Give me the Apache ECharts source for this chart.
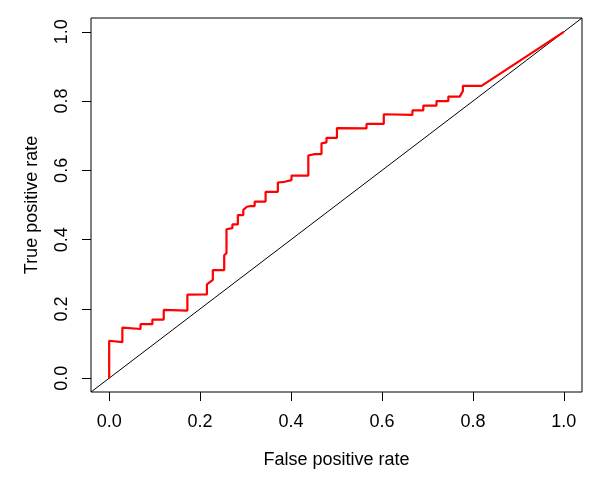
<!DOCTYPE html>
<html>
<head>
<meta charset="utf-8">
<script src="https://cdn.jsdelivr.net/npm/echarts@6/dist/echarts.min.js"></script>
<style>
html,body{margin:0;padding:0;background:#fff;}
#chart{width:600px;height:484px;}
</style>
</head>
<body>
<div id="chart"></div>
<script>
// ROC curve points (false positive rate, true positive rate)
var fpr = [0,0,0.029,0.029,0.069,0.069,0.095,0.095,0.120,0.120,0.172,0.172,0.215,0.215,0.228,0.228,0.253,0.253,0.258,0.258,0.271,0.271,0.283,0.283,0.295,0.295,0.303,0.311,0.320,0.320,0.344,0.344,0.371,0.371,0.386,0.401,0.401,0.438,0.438,0.452,0.467,0.467,0.478,0.478,0.501,0.501,0.566,0.566,0.604,0.604,0.667,0.667,0.691,0.691,0.720,0.720,0.746,0.746,0.771,0.778,0.778,0.819,1];
var tpr = [0,0.108,0.104,0.146,0.142,0.156,0.156,0.169,0.169,0.197,0.195,0.241,0.242,0.271,0.284,0.312,0.312,0.355,0.361,0.430,0.433,0.444,0.444,0.471,0.471,0.486,0.495,0.497,0.497,0.510,0.510,0.538,0.538,0.565,0.567,0.572,0.585,0.585,0.643,0.647,0.647,0.678,0.681,0.694,0.694,0.722,0.721,0.734,0.734,0.762,0.760,0.773,0.773,0.787,0.787,0.800,0.800,0.813,0.813,0.829,0.844,0.844,1];
// reference diagonal (chance line), spans the whole plot region
var diagX = [-0.04, 1.04];
var diagY = [-0.04, 1.04];
var tickValues = [0, 0.2, 0.4, 0.6, 0.8, 1.0];
var xTitle = 'False positive rate';
var yTitle = 'True positive rate';

var rocData = fpr.map(function(v, i){ return [v, tpr[i]]; });
var diagData = diagX.map(function(v, i){ return [v, diagY[i]]; });

var FONT = '"Liberation Sans", Arial, Helvetica, sans-serif';
var chart = echarts.init(document.getElementById('chart'), null, {renderer:'canvas'});
chart.setOption({
  animation: false,
  backgroundColor: '#ffffff',
  grid: {left: 91, right: 18, top: 18, bottom: 92, show: true, borderColor: '#000', borderWidth: 1, backgroundColor: 'transparent'},
  xAxis: {
    type: 'value', min: -0.04, max: 1.04, position: 'bottom',
    name: xTitle, nameLocation: 'middle', nameGap: 59,
    nameTextStyle: {fontFamily: FONT, fontSize: 18, color: '#000'},
    axisLine: {show: false, onZero: false},
    axisTick: {show: true, inside: false, customValues: tickValues, length: 9, lineStyle: {color: '#000', width: 1}},
    axisLabel: {customValues: tickValues, formatter: function(v){ return v.toFixed(1); }, fontFamily: FONT, fontSize: 18, color: '#000', margin: 21},
    splitLine: {show: false}
  },
  yAxis: {
    type: 'value', min: -0.04, max: 1.04, position: 'left',
    name: yTitle, nameLocation: 'middle', nameGap: 50, nameRotate: 90,
    nameTextStyle: {fontFamily: FONT, fontSize: 18, color: '#000'},
    axisLine: {show: false, onZero: false},
    axisTick: {show: true, inside: false, customValues: tickValues, length: 9, lineStyle: {color: '#000', width: 1}},
    axisLabel: {customValues: tickValues, rotate: 90, formatter: function(v){ return v.toFixed(1); }, fontFamily: FONT, fontSize: 18, color: '#000', margin: 20},
    splitLine: {show: false}
  },
  series: [
    {type: 'line', data: diagData, symbol: 'none', silent: true, lineStyle: {color: '#000', width: 1}, z: 1},
    {type: 'line', data: rocData, symbol: 'none', silent: true, lineStyle: {color: '#ff0000', width: 2.2}, z: 2}
  ]
});
</script>
</body>
</html>
